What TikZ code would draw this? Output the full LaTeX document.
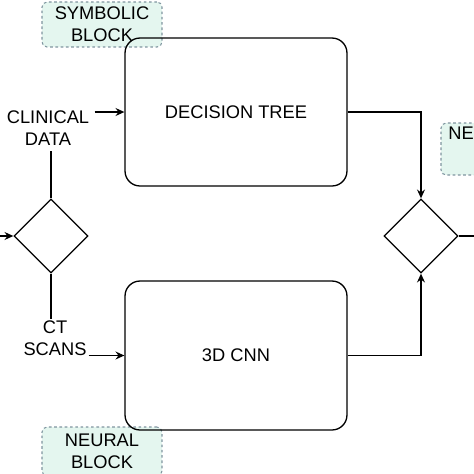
\documentclass[tikz,border=0pt]{standalone}
\usepackage{fontspec}
\setmainfont{Liberation Sans}
\usetikzlibrary{shapes.geometric, arrows.meta, positioning}
\definecolor{blockfill}{HTML}{E4F6EF}
\definecolor{blockline}{HTML}{7F959F}

\begin{document}
\begin{tikzpicture}[x=0.02cm, y=-0.02cm,
  every node/.style={font=\fontsize{10.4}{12.5}\selectfont},
  arr/.style={-{Stealth[length=5pt, width=4.5pt]}, line width=0.75pt},
  conn/.style={line width=0.75pt},
  stage/.style={draw, line width=0.75pt, rounded corners=0.3cm, minimum width=4.44cm, minimum height=2.96cm, inner sep=0pt},
  gate/.style={draw, diamond, line width=0.75pt, minimum width=1.48cm, minimum height=1.48cm, inner sep=0pt},
  blockbox/.style={draw=blockline, fill=blockfill, dash pattern=on 1.5pt off 1.5pt, line width=0.6pt, rounded corners=0.1cm, minimum width=2.4cm, minimum height=0.9cm, align=center, inner sep=0pt}]
  \useasboundingbox (0,0) rectangle (474,474);

  % Dashed block labels
  \node[blockbox] (symb) at (102,24.5) {SYMBOLIC\\BLOCK};
  \node[blockbox, minimum height=0.98cm] (neur) at (102,451.5) {NEURAL\\BLOCK};
  \node[blockbox, minimum height=1.04cm] (nsym) at (501,149) {};
  \node[anchor=west, inner sep=0pt] (nsymtxt) at (448,133) {NE};

  % Main stages
  \node[stage] (tree) at (236,112) {DECISION TREE};
  \node[stage, minimum height=2.98cm] (cnn) at (236,355.5) {3D CNN};

  % Gates
  \node[gate] (gl) at (51,236) {};
  \node[gate] (gr) at (421,236) {};

  % Inputs
  \node[align=center, inner sep=3pt] (clin) at (48,128) {CLINICAL\\DATA};
  \node[align=center, inner sep=1pt] (ct) at (55,338.5) {CT\\SCANS};
  \coordinate (in) at (0,236);
  \coordinate (out) at (474,236);

  % Connectors
  \draw[arr] (in) -- (gl.west);
  \draw[conn] (gl.north) -- (gl.north |- clin.south);
  \draw[conn] (gl.south) -- (gl.south |- ct.north);
  \draw[arr] (clin.east |- tree.west) -- (tree.west);
  \draw[arr] (ct.east |- cnn.west) -- (cnn.west);
  \draw[arr] (tree.east) -| (gr.north);
  \draw[arr] (cnn.east) -| (gr.south);
  \draw[conn] (gr.east) -- (out);
\end{tikzpicture}
\end{document}
